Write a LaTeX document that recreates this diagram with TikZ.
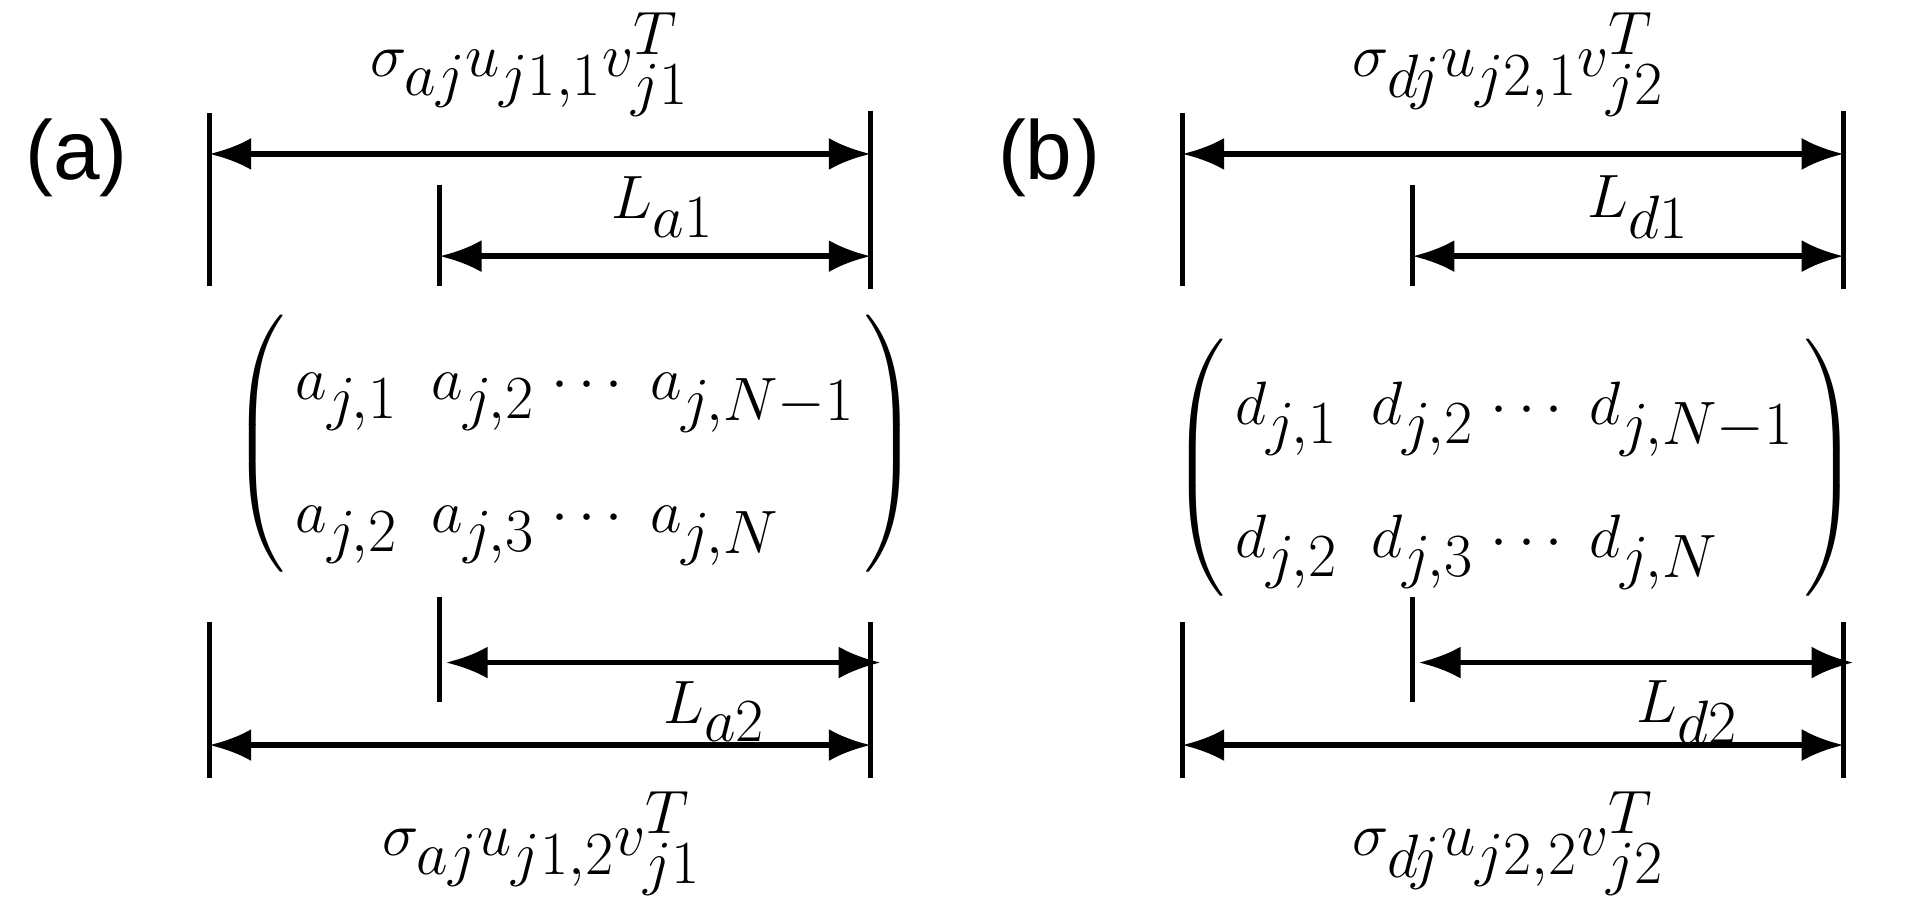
\documentclass[tikz,border=0pt]{standalone}
\usepackage{amsmath}
\usepackage{fontspec}
\setmainfont{Liberation Sans}
\usetikzlibrary{arrows.meta}
\newsavebox\mata
\newsavebox\matb
\begin{document}
\sbox\mata{\fontsize{40}{46}\selectfont$\left(\begin{array}{@{\,}l@{\;\;}l@{\;}l@{\;}l@{\,}} a_{j,1} & a_{j,2} & \cdots & a_{j,N-1}\\[8pt] a_{j,2} & a_{j,3} & \cdots & a_{j,N}\end{array}\right)$}
\sbox\matb{\fontsize{40}{46}\selectfont$\left(\begin{array}{@{\,}l@{\;\;}l@{\;}l@{\;}l@{\,}} d_{j,1} & d_{j,2} & \cdots & d_{j,N-1}\\[8pt] d_{j,2} & d_{j,3} & \cdots & d_{j,N}\end{array}\right)$}
\begin{tikzpicture}[x=0.5pt,y=-0.5pt,
  bar/.style={line width=2.2pt},
  dim/.style={line width=2.2pt,{Latex[length=17pt,width=13pt]}-{Latex[length=17pt,width=13pt]}},
  lab/.style={font=\fontsize{38}{44}\selectfont},
  panel/.style={font=\fontsize{34}{40}\selectfont}]
\useasboundingbox (0,0) rectangle (1568,738);
\foreach \o/\p/\s in {0/a/a, 790/b/d}{
 \begin{scope}[xshift=\o*0.5pt]
  \node[panel] (P\p) at (62,128) {(\p)};
  \draw[bar] (170,92) -- (170,232);
  \draw[bar] (357,150) -- (357,232);
  \draw[bar] (707,90) -- (707,235);
  \coordinate (t1) at (170,125); \coordinate (t2) at (707,125);
  \coordinate (s1) at (357,208); \coordinate (s2) at (707,208);
  \draw[dim] (t1) -- (t2);
  \draw[dim] (s1) -- (s2);
  \draw[bar] (170,505) -- (170,632);
  \draw[bar] (357,485) -- (357,570);
  \draw[bar] (707,505) -- (707,632);
  \coordinate (b1) at (362,538); \coordinate (b2) at (715,538);
  \coordinate (c1) at (170,605); \coordinate (c2) at (707,605);
  \draw[dim] (b1) -- (b2);
  \draw[dim] (c1) -- (c2);
 \end{scope}}
\node[lab] (ta) at (430,52) {$\sigma_{aj}u_{j1,1}v_{j1}^{T}$};
\node[lab] (tb) at (1225,52) {$\sigma_{dj}u_{j2,1}v_{j2}^{T}$};
\node[lab] (la1) at (538,168) {$L_{a1}$};
\node[lab] (ld1) at (1330,168) {$L_{d1}$};
\node[lab] (la2) at (580,578) {$L_{a2}$};
\node[lab] (ld2) at (1370,578) {$L_{d2}$};
\node[lab] (ba) at (440,685) {$\sigma_{aj}u_{j1,2}v_{j1}^{T}$};
\node[lab] (bb) at (1225,685) {$\sigma_{dj}u_{j2,2}v_{j2}^{T}$};
\node[inner sep=0] (ma) at (467,360) {\usebox\mata};
\node[inner sep=0] (mb) at (1230,380) {\usebox\matb};
\end{tikzpicture}
\end{document}
